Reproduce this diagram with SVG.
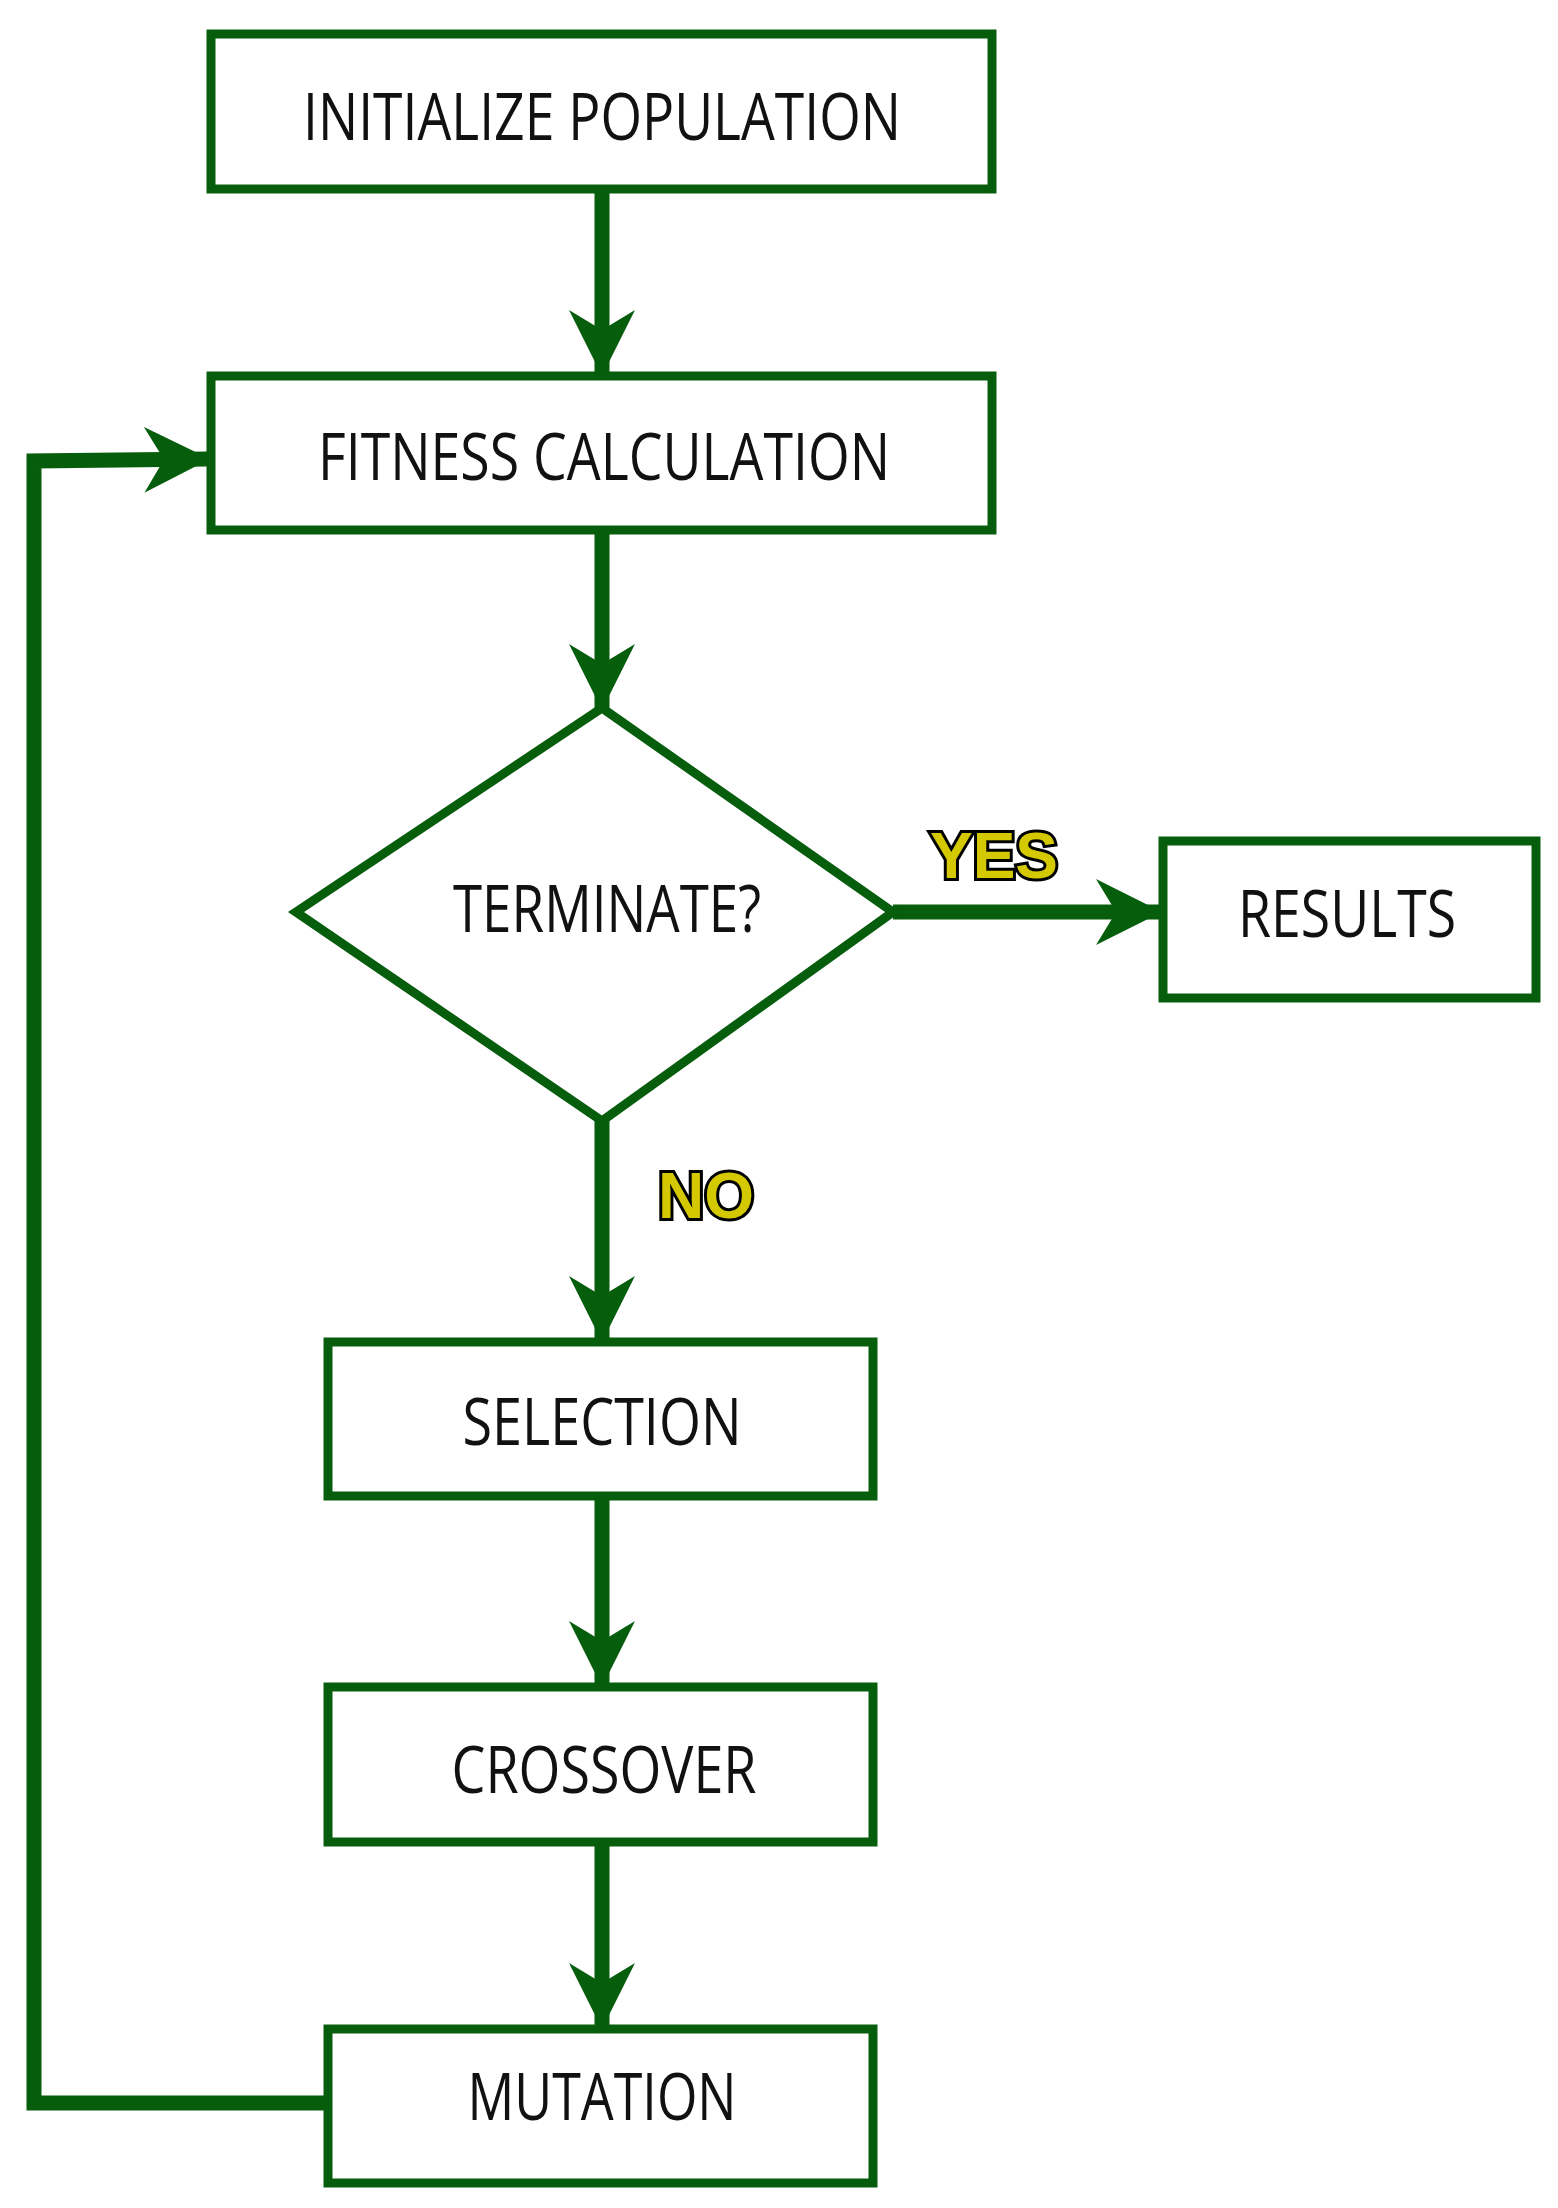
<svg xmlns="http://www.w3.org/2000/svg" width="1558" height="2208" viewBox="0 0 1558 2208">
<style>
.box{fill:#fff;stroke:#065d0c;stroke-width:9}
.ln{fill:none;stroke:#065d0c;stroke-width:15}
.t{font-family:"Open Sans","Liberation Sans",sans-serif;font-size:66px;fill:#111;text-anchor:middle}
.lbl{font-family:"Liberation Sans",sans-serif;font-weight:bold;font-size:64px;fill:#d4c900;stroke:#000;stroke-width:6;paint-order:stroke;text-anchor:middle}
</style>
<defs>
<marker id="ah" markerUnits="userSpaceOnUse" viewBox="0 0 66 66" refX="64" refY="33" markerWidth="66" markerHeight="66" orient="auto">
<path d="M0,0 L66,33 L0,66 L20,33 Z" fill="#065d0c"/>
</marker>
</defs>
<g id="connectors">
<line class="ln" x1="602" y1="189" x2="602" y2="374" marker-end="url(#ah)"/>
<line class="ln" x1="602" y1="530" x2="602" y2="708" marker-end="url(#ah)"/>
<line class="ln" x1="893" y1="912" x2="1160" y2="912" marker-end="url(#ah)"/>
<line class="ln" x1="602" y1="1121" x2="602" y2="1340" marker-end="url(#ah)"/>
<line class="ln" x1="602" y1="1496" x2="602" y2="1685" marker-end="url(#ah)"/>
<line class="ln" x1="602" y1="1842" x2="602" y2="2027" marker-end="url(#ah)"/>
<polyline class="ln" points="328,2103 34,2103 34,461 208,459" marker-end="url(#ah)"/>
<text class="lbl" x="994" y="878">YES</text>
<text class="lbl" x="706" y="1218">NO</text>
</g>
<g id="init"><rect class="box" x="211" y="34" width="781" height="155"/><text class="t" x="602" y="140" textLength="598" lengthAdjust="spacingAndGlyphs">INITIALIZE POPULATION</text></g>
<g id="fitness"><rect class="box" x="211" y="376" width="781" height="154"/><text class="t" x="604" y="480" textLength="572" lengthAdjust="spacingAndGlyphs">FITNESS CALCULATION</text></g>
<g id="terminate"><polygon class="box" points="602,708 893,912 602,1121 296,912"/><text class="t" x="607" y="932" textLength="308" lengthAdjust="spacingAndGlyphs">TERMINATE?</text></g>
<g id="results"><rect class="box" x="1163" y="841" width="373" height="157"/><text class="t" x="1347" y="937" textLength="218" lengthAdjust="spacingAndGlyphs">RESULTS</text></g>
<g id="selection"><rect class="box" x="328" y="1342" width="545" height="154"/><text class="t" x="602" y="1445" textLength="279" lengthAdjust="spacingAndGlyphs">SELECTION</text></g>
<g id="crossover"><rect class="box" x="328" y="1687" width="545" height="155"/><text class="t" x="604" y="1793" textLength="305" lengthAdjust="spacingAndGlyphs">CROSSOVER</text></g>
<g id="mutation"><rect class="box" x="328" y="2029" width="545" height="154"/><text class="t" x="602" y="2120" textLength="269" lengthAdjust="spacingAndGlyphs">MUTATION</text></g>
</svg>
